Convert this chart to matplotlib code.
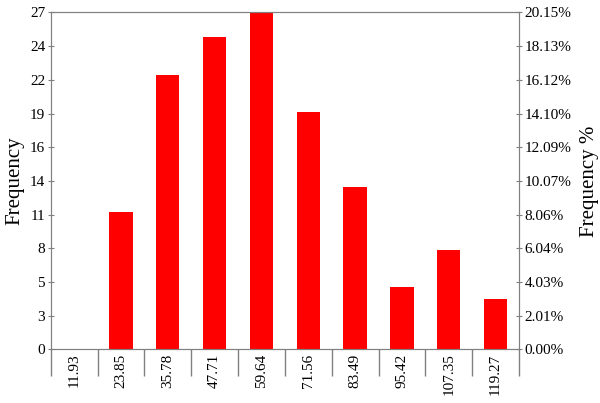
import matplotlib
matplotlib.use('Agg')
import matplotlib.pyplot as plt
import numpy as np

bins = ['11.93', '23.85', '35.78', '47.71', '59.64',
        '71.56', '83.49', '95.42', '107.35', '119.27']
counts = [0, 11, 22, 25, 27, 19, 13, 5, 8, 4]

total = sum(counts)
ymax = max(counts)
pct_max = ymax / total * 100

plt.rcParams['font.family'] = ['Liberation Serif', 'DejaVu Serif']
axis_col = '#808080'

fig = plt.figure(figsize=(6, 4.03), dpi=100)
ax = fig.add_axes([0.0845, 0.133, 0.7805, 0.836])

pos = np.arange(len(bins)) + 0.5
ax.bar(pos, counts, width=0.5, color='#ff0000', edgecolor='none')
ax.set_xlim(0, len(bins))
ax.set_ylim(0, ymax)

# left axis ticks: ten equal steps
lticks = np.linspace(0, ymax, 11)
ax.set_yticks(lticks)
ax.set_yticklabels(['%.0f' % v for v in lticks], fontsize=11)

# x axis: long separators at bin edges, labels at centres
ax.set_xticks(np.arange(len(bins) + 1))
ax.set_xticklabels([])
ax.set_xticks(pos, minor=True)
ax.set_xticklabels(bins, minor=True, rotation=90, fontsize=11, va='top')
ax.tick_params(axis='x', which='major', direction='out', length=19.5,
               color=axis_col, width=1)
ax.tick_params(axis='x', which='minor', length=0, pad=3)
ax.tick_params(axis='y', direction='inout', length=4, color=axis_col, pad=2)

for s in ax.spines.values():
    s.set_color(axis_col)
ax.set_ylabel('Frequency', fontsize=15, labelpad=4)

# right axis in percent
ax2 = ax.twinx()
ax2.set_ylim(0, pct_max)
rticks = np.linspace(0, pct_max, 11)
ax2.set_yticks(rticks)
ax2.set_yticklabels(['%.2f%%' % v for v in rticks], fontsize=11)
ax2.tick_params(axis='y', direction='inout', length=4, color=axis_col, pad=2)
for s in ax2.spines.values():
    s.set_color(axis_col)
ax2.set_ylabel('Frequency %', fontsize=15, rotation=90, labelpad=6)

fig.savefig('out.png', dpi=100)
